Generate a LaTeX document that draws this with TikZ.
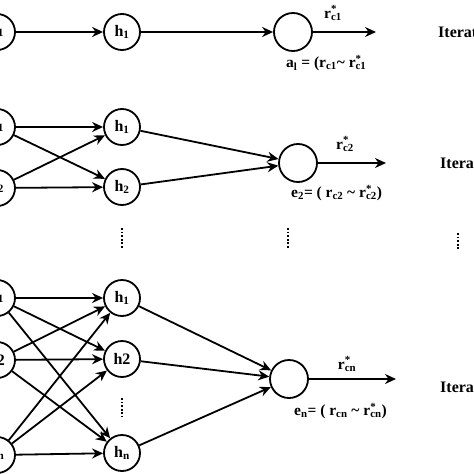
\documentclass[tikz,border=0pt]{standalone}
\usepackage{fontspec}
\setmainfont{Liberation Serif}
\usetikzlibrary{arrows.meta}
\newcommand{\rst}[1]{r\rlap{\textsuperscript{*}}\textsubscript{#1}}
\begin{document}
\begin{tikzpicture}[x=1pt,y=-1pt,
  neuron/.style={circle,draw,line width=1.8pt,minimum size=36pt,inner sep=0pt,font=\bfseries\fontsize{16}{18}\selectfont},
  outn/.style={neuron,minimum size=38pt},
  conn/.style={line width=1.8pt,-{Stealth[length=11pt,width=10pt]}},
  lbl/.style={font=\bfseries\fontsize{15.5}{18}\selectfont,inner sep=0pt},
  itl/.style={font=\bfseries\fontsize{16}{18}\selectfont,inner sep=0pt,anchor=west},
  vdots/.style={line width=2.4pt,dash pattern=on 1.8pt off 1.8pt}]
\useasboundingbox (0,0) rectangle (474,474);
\clip (0,0) rectangle (474,474);
% ---------- iteration 1
\node[neuron] (a1) at (-3,32) {x\textsubscript{1}};
\node[neuron] (ah1) at (122,32) {h\textsubscript{1}};
\node[outn] (ao) at (293,32) {};
\coordinate (ae) at (376,32);
\draw[conn] (a1) -- (ah1);
\draw[conn] (ah1) -- (ao);
\draw[conn] (ao) -- (ae);
\node[lbl] at (333,13) {\rst{c1}};
\node[lbl,anchor=west] at (286,63) {a\textsubscript{l} = (r\textsubscript{c1}\textasciitilde{} \rst{c1}};
\node[itl] at (438,32) {Iteration 1};
% ---------- iteration 2
\node[neuron] (b1) at (-3,127) {x\textsubscript{1}};
\node[neuron] (b2) at (-3,188) {x\textsubscript{2}};
\node[neuron] (bh1) at (122,127) {h\textsubscript{1}};
\node[neuron] (bh2) at (122,187) {h\textsubscript{2}};
\node[outn] (bo) at (298,163) {};
\coordinate (be) at (386,163);
\foreach \s in {b1,b2}{\foreach \t in {bh1,bh2}{\draw[conn] (\s) -- (\t);}}
\draw[conn] (bh1) -- (bo);
\draw[conn] (bh2) -- (bo);
\draw[conn] (bo) -- (be);
\node[lbl] at (345,144) {\rst{c2}};
\node[lbl,anchor=west] at (291,193) {e\textsubscript{2}= ( r\textsubscript{c2} \textasciitilde{} \rst{c2})};
\node[itl] at (440,163) {Iteration 2};
% ---------- dots
\draw[vdots] (122,228) -- (122,248);
\draw[vdots] (288,228) -- (288,248);
\draw[vdots] (458,233) -- (458,249);
% ---------- iteration n
\node[neuron] (c1) at (-3,298) {x\textsubscript{1}};
\node[neuron] (c2) at (-3,360) {x2};
\node[neuron] (c3) at (-3,455) {x\textsubscript{n}};
\node[neuron] (ch1) at (122,298) {h\textsubscript{1}};
\node[neuron] (ch2) at (122,359) {h2};
\node[neuron] (ch3) at (122,453) {h\textsubscript{n}};
\node[outn] (co) at (289,379) {};
\coordinate (ce) at (396,379);
\foreach \s in {c1,c2,c3}{\foreach \t in {ch1,ch2,ch3}{\draw[conn] (\s) -- (\t);}}
\foreach \t in {ch1,ch2,ch3}{\draw[conn] (\t) -- (co);}
\draw[conn] (co) -- (ce);
\draw[vdots] (122,398) -- (122,417);
\node[lbl] at (347,364) {\rst{cn}};
\node[lbl,anchor=west] at (294,411) {e\textsubscript{n}= ( r\textsubscript{cn} \textasciitilde{} \rst{cn})};
\node[itl] at (440,387) {Iteration n};
\end{tikzpicture}
\end{document}
